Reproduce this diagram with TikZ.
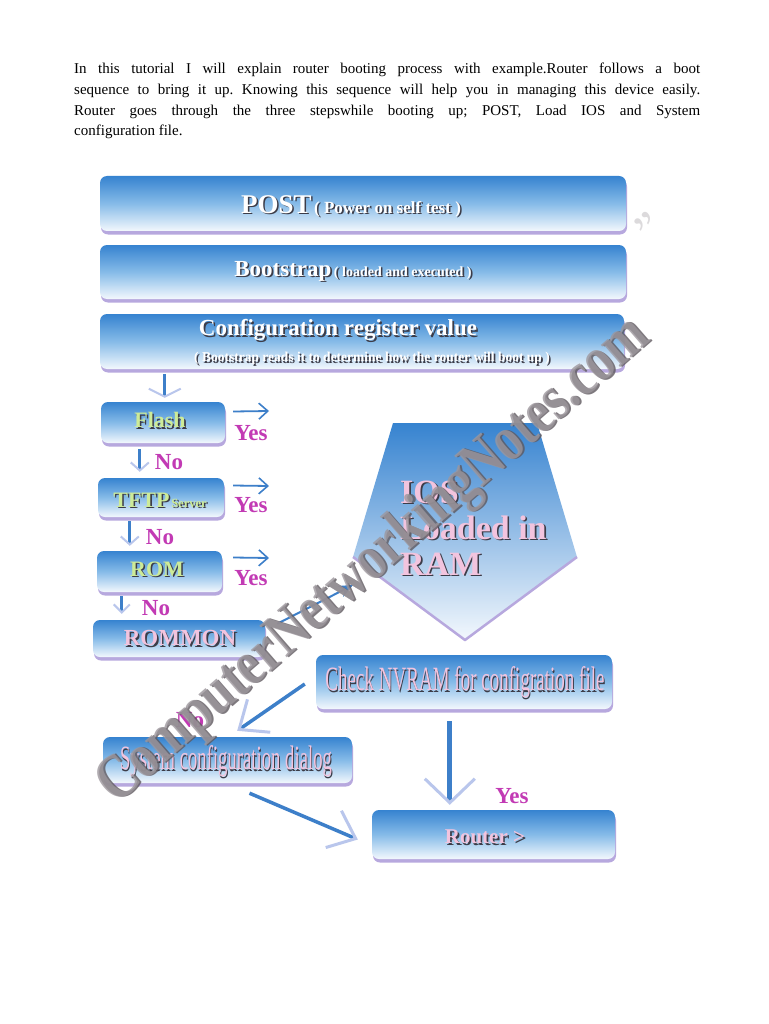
\documentclass[tikz,border=0pt]{standalone}
\usepackage{fontspec}
\setmainfont{Liberation Serif}
\usepackage{graphicx}
\usetikzlibrary{arrows.meta,shadows,calc}
\definecolor{boxtop}{HTML}{3683D0}
\definecolor{boxmid}{HTML}{86BBE8}
\definecolor{boxbot}{HTML}{F3F8FD}
\definecolor{edgec}{HTML}{B7A8DE}
\definecolor{shadowc}{HTML}{3C3C48}
\definecolor{greenc}{HTML}{CDEB98}
\definecolor{pinkc}{HTML}{F2C4DE}
\definecolor{magc}{HTML}{C23AB4}
\definecolor{shaftc}{HTML}{3D7FC9}
\definecolor{headc}{HTML}{B9C6EC}
\definecolor{wmc}{HTML}{9D979D}
\definecolor{wmsh}{HTML}{5E585E}
\newcommand\stx[3]{\makebox[0pt][l]{\hspace{1.6pt}\raisebox{-1.6pt}{\textcolor{#2}{#3}}}\textcolor{#1}{#3}}
\begin{document}
\begin{tikzpicture}[x=1pt,y=-1pt,
  boxsty/.style={rounded corners=7pt, draw=none, top color=boxtop, bottom color=boxbot, middle color=boxmid, inner sep=0pt,
    drop shadow={shadow xshift=1pt, shadow yshift=-3.5pt, fill=edgec, opacity=1}},
  lbl/.style={inner sep=0pt},
  yesno/.style={inner sep=0pt, text=magc, font=\bfseries\fontsize{23}{23}\selectfont},
  smallarr/.style={draw=shaftc, line width=3pt, -{Straight Barb[length=8pt, width=#1, line width=2pt, color=headc]}},
  yesarr/.style={draw=shaftc, line width=1.8pt, -{Straight Barb[length=9pt, width=16pt, line width=1.6pt, color=shaftc]}},
  bigarr/.style={draw=shaftc, line width=5pt, -{Straight Barb[length=24pt, width=#1, line width=3pt, color=headc]}},
]
\useasboundingbox (0,0) rectangle (768,1024);
\fill[white] (0,0) rectangle (768,1024);

% intro paragraph
\node[text width=626pt, align=justify, anchor=north west, inner sep=0pt,
      font=\frenchspacing\fontsize{15}{20.7}\selectfont] (intro) at (74,63)
 {In this tutorial I will explain router booting process with example.Router follows a boot\linebreak
  sequence to bring it up. Knowing this sequence will help you in managing this device easily.\linebreak
  Router goes through the three stepswhile booting up; POST, Load IOS and System\linebreak
  configuration file.};

% boxes
\node[boxsty, minimum width=526pt, minimum height=55pt] (post) at (363,203.5) {};
\node[boxsty, minimum width=526pt, minimum height=54pt] (boot) at (363,272) {};
\node[boxsty, minimum width=524pt, minimum height=55pt] (creg) at (362,341.5) {};
\node[boxsty, minimum width=124pt, minimum height=41pt] (flash) at (163,422.5) {};
\node[boxsty, minimum width=126pt, minimum height=39pt] (tftp) at (161,497.5) {};
\node[boxsty, minimum width=125pt, minimum height=41pt] (rom) at (159.5,571.5) {};
\node[boxsty, minimum width=172pt, minimum height=37pt] (rommon) at (179,638.5) {};
\node[boxsty, minimum width=296pt, minimum height=54pt] (nvram) at (464,682) {};
\node[boxsty, minimum width=249pt, minimum height=46pt] (sysdlg) at (227.5,760) {};
\node[boxsty, minimum width=243pt, minimum height=49pt] (router) at (493.5,834.5) {};

% pentagon
\coordinate (p1) at (393,423);
\coordinate (p2) at (537,423);
\coordinate (p3) at (577,557);
\coordinate (p4) at (465,640);
\coordinate (p5) at (353,557);
\shade[top color=boxtop, middle color=boxmid, bottom color=boxbot] (p1)--(p2)--(p3)--(p4)--(p5)--cycle;
\draw[edgec, line width=2.5pt, line join=round] (p5)--(p4)--(p3);
\coordinate (iosin) at (353,585);

% box texts
\node[lbl] (posttxt) at (351,207) {\stx{white}{shadowc}{\bfseries\fontsize{27}{27}\selectfont POST}\ \stx{white}{shadowc}{\bfseries\fontsize{17}{17}\selectfont ( Power on self test )}};
\node[lbl] (boottxt) at (353,272) {\stx{white}{shadowc}{\bfseries\fontsize{23}{23}\selectfont Bootstrap}\ \stx{white}{shadowc}{\bfseries\fontsize{14}{14}\selectfont ( loaded and executed )}};
\node[lbl] (cregtxt) at (338,331) {\stx{white}{shadowc}{\bfseries\fontsize{23}{23}\selectfont Configuration register value}};
\node[lbl] (cregsub) at (372,359) {\stx{white}{shadowc}{\bfseries\fontsize{13.5}{14}\selectfont ( Bootstrap reads it to determine how the router will boot up )}};
\node[lbl] (flashtxt) at (160,421) {\stx{greenc}{shadowc}{\bfseries\fontsize{22}{22}\selectfont Flash}};
\node[lbl] (tftptxt) at (160,501) {\stx{greenc}{shadowc}{\bfseries\fontsize{22}{22}\selectfont TFTP}\,\stx{greenc}{shadowc}{\bfseries\fontsize{12.5}{13}\selectfont Server}};
\node[lbl] (romtxt) at (157,570) {\stx{greenc}{shadowc}{\bfseries\fontsize{22}{22}\selectfont ROM}};
\node[lbl] (rommontxt) at (180,639) {\stx{pinkc}{shadowc}{\bfseries\fontsize{23}{23}\selectfont ROMMON}};
\node[lbl, anchor=base west] (ios1) at (400,503) {\stx{pinkc}{shadowc}{\bfseries\fontsize{34}{34}\selectfont IOS}};
\node[lbl, anchor=base west] (ios2) at (400,539) {\stx{pinkc}{shadowc}{\bfseries\fontsize{34}{34}\selectfont Loaded in}};
\node[lbl, anchor=base west] (ios3) at (400,575) {\stx{pinkc}{shadowc}{\bfseries\fontsize{34}{34}\selectfont RAM}};
\node[lbl] (nvramtxt) at (465,683) {\scalebox{0.56}[1]{\stx{pinkc}{shadowc}{\fontsize{34}{34}\selectfont Check NVRAM for configration file}}};
\node[lbl] (sysdlgtxt) at (226,762) {\scalebox{0.55}[1]{\stx{pinkc}{shadowc}{\fontsize{34}{34}\selectfont System configuration dialog}}};
\node[lbl] (routertxt) at (485,838) {\stx{pinkc}{shadowc}{\bfseries\fontsize{21}{21}\selectfont Router >}};

% yes / no labels
\node[yesno] (yes1) at (251,433) {Yes};
\node[yesno] (yes2) at (251,505) {Yes};
\node[yesno] (yes3) at (251,578) {Yes};
\node[yesno] (yes4) at (512,796) {Yes};
\node[yesno] (no1) at (169,462) {No};
\node[yesno] (no2) at (160,537) {No};
\node[yesno] (no3) at (156,608) {No};
\node[yesno] (no4) at (190,720) {No};

% yes arrows (free ends)
\coordinate (y1e) at (269,411);
\coordinate (y2e) at (269,486);
\coordinate (y3e) at (269,558);
\draw[yesarr] ($(flash.east)+(8,-11)$) -- (y1e);
\draw[yesarr] ($(tftp.east)+(9,-12)$) -- (y2e);
\draw[yesarr] ($(rom.east)+(11,-14)$) -- (y3e);

% down arrows
\draw[smallarr=32pt] ($(creg.south west)+(65,5)$) -- ($(flash.north west)+(64,-4)$);
\draw[smallarr=18pt] ($(flash.south west)+(39,6)$) -- ($(tftp.north west)+(42,-6)$);
\draw[smallarr=18pt] ($(tftp.south west)+(32,4)$) -- ($(rom.north west)+(33,-5)$);
\draw[smallarr=16pt] ($(rom.south west)+(25,4)$) -- ($(rommon.north west)+(29,-6)$);

% rommon -> IOS
\draw[draw=shaftc, line width=2pt, -{Stealth[length=14pt, width=12pt, inset=4pt, color=shaftc]}] ($(rommon.north east)+(12,4)$) -- (iosin);

% nvram -> system dialog, nvram -> router, system dialog -> router
\draw[bigarr=40pt, line width=3.5pt] ($(nvram.west)+(-11,2)$) -- ($(sysdlg.north east)+(-115,-6)$);
\draw[bigarr=50pt] ($(nvram.south west)+(134,12)$) -- ($(router.north west)+(78,-5)$);
\draw[bigarr=40pt, line width=3.5pt] ($(sysdlg.south)+(22,10)$) -- ($(router.west)+(-14,5)$);

% watermark
\node[rotate=41, opacity=0.8, inner sep=0pt] (wm) at (375,562)
  {\scalebox{0.8}[1]{\stx{wmc}{wmsh}{\bfseries\fontsize{64}{64}\selectfont ComputerNetworkingNotes.com}}};
\node[rotate=41, opacity=0.35, inner sep=0pt, text=wmc] (wmq) at (650,228) {\fontsize{48}{48}\selectfont ”};
\end{tikzpicture}
\end{document}
